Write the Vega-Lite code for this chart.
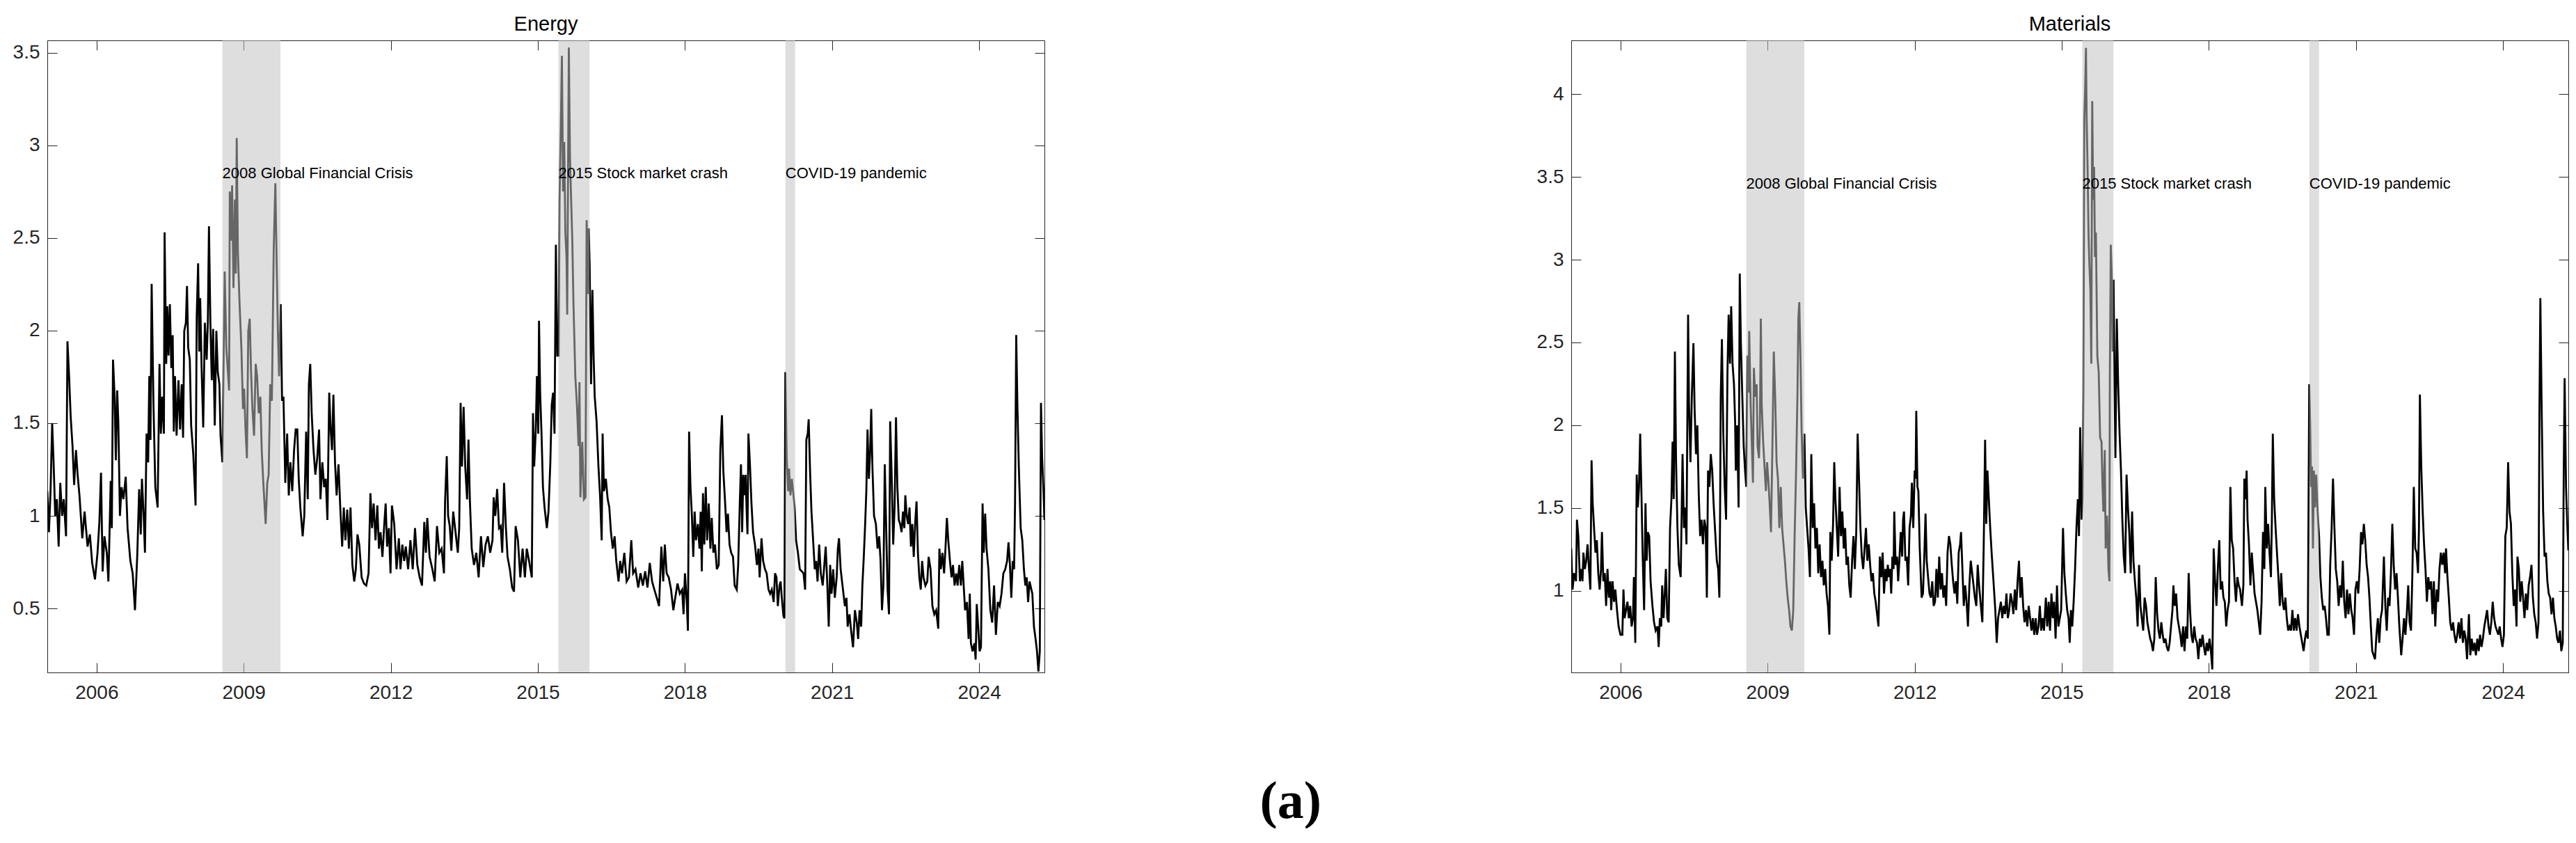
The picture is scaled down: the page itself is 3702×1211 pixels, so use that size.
{
  "$schema": "https://vega.github.io/schema/vega-lite/v6.json",
  "background": "white",
  "padding": {"left": 17, "top": 20, "right": 0, "bottom": 0},
  "config": {
    "view": {"stroke": "#262626", "strokeWidth": 1},
    "font": "Liberation Sans",
    "axis": {"labelFont": "Liberation Sans", "labelFontSize": 28, "labelColor": "#262626", "domainColor": "#262626", "tickColor": "#262626", "grid": false, "title": null, "tickSize": -14, "labelFlush": false, "labelOverlap": false},
    "title": {"font": "Liberation Sans", "fontSize": 29, "fontWeight": "normal", "color": "#000000", "offset": 8},
    "concat": {"spacing": 705}
  },
  "title": {"text": "(a)", "orient": "bottom", "font": "Liberation Serif", "fontSize": 76, "fontWeight": "bold", "offset": 105, "anchor": "middle", "color": "#000000"},
  "datasets": {
    "periods": [
      {"event": "2008 Global Financial Crisis", "start": 2008.566, "end": 2009.75},
      {"event": "2015 Stock market crash", "start": 2015.42, "end": 2016.055},
      {"event": "COVID-19 pandemic", "start": 2020.05, "end": 2020.248}
    ],
    "energy": [
{"t":2004.995,"v":1.133},{"t":2005.028,"v":0.912},{"t":2005.061,"v":1.133},{"t":2005.094,"v":1.5},{"t":2005.123,"v":1.289},{"t":2005.156,"v":1.0},{"t":2005.189,"v":1.09},{"t":2005.226,"v":0.834},{"t":2005.259,"v":1.178},{"t":2005.297,"v":1.0},{"t":2005.33,"v":1.09},{"t":2005.377,"v":0.89},{"t":2005.406,"v":1.942},{"t":2005.439,"v":1.754},{"t":2005.472,"v":1.532},{"t":2005.509,"v":1.377},{"t":2005.542,"v":1.167},{"t":2005.58,"v":1.355},{"t":2005.613,"v":1.222},{"t":2005.651,"v":1.11},{"t":2005.708,"v":0.879},{"t":2005.755,"v":1.023},{"t":2005.816,"v":0.834},{"t":2005.863,"v":0.9},{"t":2005.91,"v":0.746},{"t":2005.967,"v":0.657},
{"t":2006.019,"v":0.801},{"t":2006.057,"v":0.967},{"t":2006.09,"v":1.233},{"t":2006.123,"v":0.7},{"t":2006.16,"v":0.89},{"t":2006.208,"v":0.801},{"t":2006.241,"v":0.646},{"t":2006.288,"v":1.189},{"t":2006.311,"v":0.934},{"t":2006.335,"v":1.843},{"t":2006.368,"v":1.643},{"t":2006.392,"v":1.3},{"t":2006.42,"v":1.677},{"t":2006.443,"v":1.51},{"t":2006.476,"v":1.0},{"t":2006.509,"v":1.155},{"t":2006.547,"v":1.09},{"t":2006.594,"v":1.211},{"t":2006.632,"v":0.934},{"t":2006.689,"v":0.757},{"t":2006.736,"v":0.69},{"t":2006.783,"v":0.491},{"t":2006.83,"v":0.79},{"t":2006.868,"v":1.144},{"t":2006.901,"v":0.9},{"t":2006.925,"v":1.2},{"t":2006.962,"v":0.99},{"t":2006.986,"v":0.801},
{"t":2007.019,"v":1.444},{"t":2007.052,"v":1.289},{"t":2007.075,"v":1.754},{"t":2007.099,"v":1.41},{"t":2007.123,"v":2.252},{"t":2007.16,"v":1.6},{"t":2007.198,"v":1.155},{"t":2007.245,"v":1.045},{"t":2007.283,"v":1.82},{"t":2007.311,"v":1.444},{"t":2007.34,"v":1.643},{"t":2007.373,"v":1.444},{"t":2007.387,"v":2.53},{"t":2007.42,"v":1.82},{"t":2007.443,"v":2.131},{"t":2007.467,"v":1.865},{"t":2007.495,"v":2.142},{"t":2007.524,"v":1.798},{"t":2007.552,"v":1.975},{"t":2007.575,"v":1.455},{"t":2007.599,"v":1.754},{"t":2007.632,"v":1.433},{"t":2007.67,"v":1.732},{"t":2007.703,"v":1.466},{"t":2007.736,"v":1.71},{"t":2007.764,"v":1.422},{"t":2007.788,"v":1.998},{"t":2007.821,"v":2.042},{"t":2007.844,"v":2.241},{"t":2007.868,"v":1.909},{"t":2007.901,"v":1.843},{"t":2007.929,"v":1.488},{"t":2007.972,"v":1.333},
{"t":2008.019,"v":1.056},{"t":2008.042,"v":2.075},{"t":2008.071,"v":2.363},{"t":2008.094,"v":1.887},{"t":2008.113,"v":2.175},{"t":2008.142,"v":1.798},{"t":2008.175,"v":1.477},{"t":2008.208,"v":2.042},{"t":2008.245,"v":1.843},{"t":2008.269,"v":2.042},{"t":2008.292,"v":2.563},{"t":2008.321,"v":2.042},{"t":2008.349,"v":1.732},{"t":2008.377,"v":2.009},{"t":2008.41,"v":1.488},{"t":2008.443,"v":1.998},{"t":2008.472,"v":1.776},{"t":2008.505,"v":1.71},{"t":2008.528,"v":1.433},{"t":2008.566,"v":1.289},{"t":2008.59,"v":1.82},{"t":2008.613,"v":2.319},{"t":2008.646,"v":1.909},{"t":2008.679,"v":1.776},{"t":2008.703,"v":1.677},{"t":2008.717,"v":2.751},{"t":2008.745,"v":2.485},{"t":2008.764,"v":2.784},{"t":2008.792,"v":2.23},{"t":2008.821,"v":2.707},{"t":2008.84,"v":2.308},{"t":2008.858,"v":3.039},{"t":2008.882,"v":2.43},{"t":2008.915,"v":2.153},{"t":2008.953,"v":1.909},{"t":2008.986,"v":1.577},
{"t":2009.009,"v":1.687},{"t":2009.038,"v":1.466},{"t":2009.066,"v":1.311},{"t":2009.094,"v":1.998},{"t":2009.123,"v":2.064},{"t":2009.151,"v":1.776},{"t":2009.179,"v":1.577},{"t":2009.212,"v":1.433},{"t":2009.245,"v":1.82},{"t":2009.274,"v":1.754},{"t":2009.307,"v":1.554},{"t":2009.34,"v":1.643},{"t":2009.368,"v":1.355},{"t":2009.401,"v":1.178},{"t":2009.448,"v":0.956},{"t":2009.481,"v":1.178},{"t":2009.509,"v":1.222},{"t":2009.542,"v":1.71},{"t":2009.575,"v":1.621},{"t":2009.613,"v":2.441},{"t":2009.646,"v":2.795},{"t":2009.675,"v":2.33},{"t":2009.698,"v":1.998},{"t":2009.722,"v":1.754},{"t":2009.755,"v":2.142},{"t":2009.783,"v":1.621},{"t":2009.811,"v":1.643},{"t":2009.849,"v":1.178},{"t":2009.887,"v":1.444},{"t":2009.92,"v":1.11},{"t":2009.953,"v":1.289},{"t":2009.991,"v":1.133},
{"t":2010.028,"v":1.355},{"t":2010.061,"v":1.466},{"t":2010.094,"v":1.466},{"t":2010.123,"v":1.2},{"t":2010.156,"v":1.045},{"t":2010.203,"v":0.89},{"t":2010.236,"v":1.0},{"t":2010.274,"v":1.455},{"t":2010.307,"v":1.09},{"t":2010.33,"v":1.71},{"t":2010.358,"v":1.82},{"t":2010.387,"v":1.554},{"t":2010.425,"v":1.355},{"t":2010.462,"v":1.222},{"t":2010.5,"v":1.311},{"t":2010.538,"v":1.466},{"t":2010.566,"v":1.09},{"t":2010.604,"v":1.289},{"t":2010.642,"v":1.155},{"t":2010.675,"v":1.2},{"t":2010.708,"v":0.978},{"t":2010.745,"v":1.665},{"t":2010.774,"v":1.466},{"t":2010.802,"v":1.355},{"t":2010.83,"v":1.654},{"t":2010.863,"v":1.289},{"t":2010.896,"v":1.11},{"t":2010.934,"v":1.278},{"t":2010.972,"v":1.034},
{"t":2011.009,"v":0.834},{"t":2011.042,"v":1.045},{"t":2011.075,"v":0.868},{"t":2011.113,"v":1.034},{"t":2011.146,"v":0.823},{"t":2011.179,"v":1.045},{"t":2011.217,"v":0.735},{"t":2011.255,"v":0.646},{"t":2011.288,"v":0.712},{"t":2011.321,"v":0.9},{"t":2011.358,"v":0.845},{"t":2011.406,"v":0.668},{"t":2011.453,"v":0.635},{"t":2011.5,"v":0.624},{"t":2011.547,"v":0.69},{"t":2011.585,"v":1.122},{"t":2011.618,"v":0.934},{"t":2011.651,"v":1.067},{"t":2011.689,"v":0.868},{"t":2011.726,"v":1.056},{"t":2011.759,"v":0.823},{"t":2011.792,"v":0.912},{"t":2011.83,"v":0.779},{"t":2011.868,"v":0.956},{"t":2011.896,"v":1.067},{"t":2011.925,"v":0.834},{"t":2011.962,"v":0.934},{"t":2011.995,"v":0.69},
{"t":2012.024,"v":1.056},{"t":2012.071,"v":0.956},{"t":2012.118,"v":0.712},{"t":2012.165,"v":0.879},{"t":2012.198,"v":0.712},{"t":2012.236,"v":0.845},{"t":2012.274,"v":0.757},{"t":2012.307,"v":0.834},{"t":2012.354,"v":0.712},{"t":2012.401,"v":0.868},{"t":2012.448,"v":0.712},{"t":2012.495,"v":0.934},{"t":2012.542,"v":0.735},{"t":2012.59,"v":0.668},{"t":2012.637,"v":0.624},{"t":2012.684,"v":0.967},{"t":2012.717,"v":0.801},{"t":2012.745,"v":0.989},{"t":2012.792,"v":0.779},{"t":2012.849,"v":0.712},{"t":2012.896,"v":0.646},{"t":2012.943,"v":0.945},{"t":2012.991,"v":0.801},
{"t":2013.038,"v":0.823},{"t":2013.085,"v":0.69},{"t":2013.108,"v":1.078},{"t":2013.142,"v":1.322},{"t":2013.17,"v":1.0},{"t":2013.203,"v":0.945},{"t":2013.236,"v":0.812},{"t":2013.274,"v":1.023},{"t":2013.321,"v":0.912},{"t":2013.368,"v":0.801},{"t":2013.396,"v":0.934},{"t":2013.425,"v":1.61},{"t":2013.453,"v":1.266},{"t":2013.486,"v":1.588},{"t":2013.519,"v":1.266},{"t":2013.557,"v":1.089},{"t":2013.585,"v":1.411},{"t":2013.613,"v":1.089},{"t":2013.651,"v":0.823},{"t":2013.698,"v":0.735},{"t":2013.745,"v":0.801},{"t":2013.792,"v":0.668},{"t":2013.84,"v":0.89},{"t":2013.887,"v":0.724},{"t":2013.934,"v":0.845},{"t":2013.981,"v":0.89},
{"t":2014.028,"v":0.801},{"t":2014.075,"v":0.868},{"t":2014.099,"v":1.1},{"t":2014.132,"v":1.0},{"t":2014.17,"v":1.145},{"t":2014.208,"v":0.934},{"t":2014.241,"v":0.945},{"t":2014.274,"v":0.801},{"t":2014.311,"v":1.178},{"t":2014.349,"v":0.934},{"t":2014.382,"v":0.779},{"t":2014.429,"v":0.712},{"t":2014.476,"v":0.613},{"t":2014.514,"v":0.591},{"t":2014.547,"v":0.945},{"t":2014.594,"v":0.868},{"t":2014.642,"v":0.668},{"t":2014.689,"v":0.823},{"t":2014.736,"v":0.668},{"t":2014.774,"v":0.823},{"t":2014.821,"v":0.757},{"t":2014.877,"v":0.668},{"t":2014.901,"v":1.554},{"t":2014.925,"v":1.266},{"t":2014.958,"v":1.466},{"t":2014.981,"v":1.754},
{"t":2015.009,"v":1.444},{"t":2015.024,"v":2.053},{"t":2015.047,"v":1.665},{"t":2015.075,"v":1.444},{"t":2015.104,"v":1.156},{"t":2015.137,"v":1.045},{"t":2015.184,"v":0.934},{"t":2015.217,"v":1.023},{"t":2015.255,"v":1.289},{"t":2015.283,"v":1.599},{"t":2015.311,"v":1.665},{"t":2015.34,"v":1.444},{"t":2015.368,"v":2.463},{"t":2015.396,"v":1.865},{"t":2015.425,"v":1.865},{"t":2015.443,"v":2.707},{"t":2015.467,"v":3.072},{"t":2015.491,"v":3.482},{"t":2015.514,"v":2.751},{"t":2015.538,"v":3.017},{"t":2015.561,"v":2.529},{"t":2015.585,"v":2.396},{"t":2015.599,"v":2.086},{"t":2015.618,"v":2.928},{"t":2015.632,"v":3.527},{"t":2015.656,"v":2.928},{"t":2015.679,"v":2.707},{"t":2015.703,"v":2.485},{"t":2015.726,"v":2.153},{"t":2015.764,"v":1.754},{"t":2015.797,"v":1.599},{"t":2015.83,"v":1.377},{"t":2015.849,"v":1.721},{"t":2015.868,"v":1.1},{"t":2015.906,"v":1.399},{"t":2015.939,"v":1.089},{"t":2015.972,"v":1.1},{"t":2015.995,"v":2.596},
{"t":2016.019,"v":2.197},{"t":2016.038,"v":2.552},{"t":2016.057,"v":2.352},{"t":2016.085,"v":1.71},{"t":2016.113,"v":2.219},{"t":2016.137,"v":1.865},{"t":2016.16,"v":1.643},{"t":2016.198,"v":1.51},{"t":2016.236,"v":1.266},{"t":2016.269,"v":1.111},{"t":2016.302,"v":0.868},{"t":2016.321,"v":1.444},{"t":2016.349,"v":1.133},{"t":2016.387,"v":1.2},{"t":2016.425,"v":1.089},{"t":2016.458,"v":1.045},{"t":2016.491,"v":0.912},{"t":2016.528,"v":0.823},{"t":2016.566,"v":0.89},{"t":2016.599,"v":0.757},{"t":2016.646,"v":0.646},{"t":2016.679,"v":0.757},{"t":2016.717,"v":0.69},{"t":2016.764,"v":0.801},{"t":2016.811,"v":0.646},{"t":2016.858,"v":0.668},{"t":2016.906,"v":0.868},{"t":2016.943,"v":0.69},{"t":2016.991,"v":0.712},
{"t":2017.047,"v":0.613},{"t":2017.094,"v":0.69},{"t":2017.142,"v":0.624},{"t":2017.189,"v":0.701},{"t":2017.236,"v":0.613},{"t":2017.283,"v":0.746},{"t":2017.33,"v":0.646},{"t":2017.377,"v":0.602},{"t":2017.425,"v":0.558},{"t":2017.472,"v":0.513},{"t":2017.519,"v":0.834},{"t":2017.557,"v":0.646},{"t":2017.59,"v":0.845},{"t":2017.627,"v":0.69},{"t":2017.67,"v":0.668},{"t":2017.717,"v":0.602},{"t":2017.764,"v":0.491},{"t":2017.802,"v":0.558},{"t":2017.849,"v":0.635},{"t":2017.896,"v":0.58},{"t":2017.943,"v":0.602},{"t":2017.972,"v":0.469},
{"t":2018.0,"v":0.69},{"t":2018.038,"v":0.535},{"t":2018.061,"v":0.38},{"t":2018.085,"v":1.455},{"t":2018.113,"v":1.156},{"t":2018.142,"v":1.0},{"t":2018.17,"v":0.779},{"t":2018.198,"v":1.023},{"t":2018.226,"v":0.868},{"t":2018.264,"v":0.956},{"t":2018.297,"v":0.823},{"t":2018.321,"v":1.023},{"t":2018.344,"v":0.701},{"t":2018.368,"v":1.122},{"t":2018.396,"v":0.845},{"t":2018.425,"v":1.156},{"t":2018.453,"v":0.868},{"t":2018.486,"v":1.067},{"t":2018.519,"v":0.823},{"t":2018.547,"v":0.989},{"t":2018.58,"v":0.801},{"t":2018.613,"v":0.845},{"t":2018.651,"v":0.712},{"t":2018.689,"v":0.735},{"t":2018.722,"v":1.355},{"t":2018.755,"v":1.543},{"t":2018.783,"v":1.244},{"t":2018.816,"v":1.089},{"t":2018.849,"v":0.912},{"t":2018.877,"v":1.012},{"t":2018.91,"v":0.845},{"t":2018.943,"v":0.801},{"t":2018.981,"v":0.779},
{"t":2019.014,"v":0.624},{"t":2019.057,"v":0.602},{"t":2019.086,"v":0.735},{"t":2019.119,"v":1.067},{"t":2019.143,"v":1.278},{"t":2019.167,"v":0.912},{"t":2019.19,"v":1.222},{"t":2019.214,"v":1.111},{"t":2019.238,"v":1.222},{"t":2019.262,"v":1.0},{"t":2019.276,"v":0.901},{"t":2019.295,"v":1.444},{"t":2019.324,"v":1.289},{"t":2019.357,"v":1.067},{"t":2019.39,"v":0.912},{"t":2019.429,"v":0.845},{"t":2019.467,"v":0.735},{"t":2019.5,"v":0.823},{"t":2019.524,"v":0.668},{"t":2019.562,"v":0.879},{"t":2019.595,"v":0.757},{"t":2019.633,"v":0.712},{"t":2019.667,"v":0.69},{"t":2019.705,"v":0.602},{"t":2019.738,"v":0.58},{"t":2019.771,"v":0.602},{"t":2019.81,"v":0.535},{"t":2019.838,"v":0.69},{"t":2019.867,"v":0.668},{"t":2019.895,"v":0.513},{"t":2019.929,"v":0.624},{"t":2019.952,"v":0.646},{"t":2019.976,"v":0.558},
{"t":2020.01,"v":0.458},{"t":2020.029,"v":0.447},{"t":2020.048,"v":1.776},{"t":2020.076,"v":1.311},{"t":2020.105,"v":1.133},{"t":2020.124,"v":1.255},{"t":2020.152,"v":1.111},{"t":2020.181,"v":1.2},{"t":2020.214,"v":1.111},{"t":2020.238,"v":1.045},{"t":2020.267,"v":0.868},{"t":2020.305,"v":0.801},{"t":2020.343,"v":0.712},{"t":2020.381,"v":0.701},{"t":2020.419,"v":0.69},{"t":2020.452,"v":0.602},{"t":2020.476,"v":1.411},{"t":2020.505,"v":1.444},{"t":2020.524,"v":1.521},{"t":2020.552,"v":1.244},{"t":2020.581,"v":1.023},{"t":2020.61,"v":0.89},{"t":2020.648,"v":0.712},{"t":2020.676,"v":0.757},{"t":2020.705,"v":0.646},{"t":2020.738,"v":0.845},{"t":2020.771,"v":0.69},{"t":2020.81,"v":0.624},{"t":2020.843,"v":0.735},{"t":2020.871,"v":0.834},{"t":2020.905,"v":0.624},{"t":2020.933,"v":0.402},{"t":2020.962,"v":0.735},{"t":2020.99,"v":0.58},
{"t":2021.024,"v":0.712},{"t":2021.057,"v":0.558},{"t":2021.095,"v":0.668},{"t":2021.119,"v":0.823},{"t":2021.143,"v":0.879},{"t":2021.176,"v":0.712},{"t":2021.214,"v":0.624},{"t":2021.262,"v":0.513},{"t":2021.295,"v":0.558},{"t":2021.319,"v":0.402},{"t":2021.357,"v":0.469},{"t":2021.39,"v":0.38},{"t":2021.429,"v":0.291},{"t":2021.467,"v":0.491},{"t":2021.505,"v":0.424},{"t":2021.533,"v":0.336},{"t":2021.562,"v":0.491},{"t":2021.595,"v":0.402},{"t":2021.619,"v":0.624},{"t":2021.648,"v":0.779},{"t":2021.676,"v":0.956},{"t":2021.7,"v":1.133},{"t":2021.724,"v":1.466},{"t":2021.752,"v":1.2},{"t":2021.776,"v":1.333},{"t":2021.8,"v":1.577},{"t":2021.824,"v":1.266},{"t":2021.857,"v":1.0},{"t":2021.895,"v":0.956},{"t":2021.929,"v":0.823},{"t":2021.962,"v":0.89},{"t":2021.99,"v":0.757},
{"t":2022.019,"v":0.491},{"t":2022.048,"v":0.624},{"t":2022.076,"v":1.278},{"t":2022.105,"v":0.934},{"t":2022.133,"v":0.602},{"t":2022.162,"v":0.469},{"t":2022.186,"v":1.51},{"t":2022.214,"v":1.244},{"t":2022.248,"v":0.845},{"t":2022.276,"v":1.045},{"t":2022.305,"v":1.532},{"t":2022.333,"v":1.156},{"t":2022.362,"v":0.978},{"t":2022.39,"v":0.956},{"t":2022.419,"v":0.912},{"t":2022.448,"v":1.023},{"t":2022.476,"v":0.934},{"t":2022.495,"v":1.111},{"t":2022.524,"v":1.0},{"t":2022.552,"v":0.956},{"t":2022.581,"v":1.045},{"t":2022.61,"v":0.834},{"t":2022.638,"v":0.956},{"t":2022.667,"v":0.779},{"t":2022.695,"v":0.956},{"t":2022.724,"v":1.078},{"t":2022.752,"v":0.801},{"t":2022.781,"v":0.668},{"t":2022.81,"v":0.602},{"t":2022.838,"v":0.757},{"t":2022.867,"v":0.668},{"t":2022.905,"v":0.624},{"t":2022.943,"v":0.646},{"t":2022.971,"v":0.779},
{"t":2023.01,"v":0.712},{"t":2023.048,"v":0.513},{"t":2023.086,"v":0.469},{"t":2023.124,"v":0.491},{"t":2023.167,"v":0.391},{"t":2023.19,"v":0.823},{"t":2023.219,"v":0.712},{"t":2023.252,"v":0.801},{"t":2023.286,"v":0.69},{"t":2023.314,"v":0.823},{"t":2023.343,"v":0.989},{"t":2023.371,"v":0.868},{"t":2023.405,"v":0.757},{"t":2023.438,"v":0.668},{"t":2023.467,"v":0.735},{"t":2023.5,"v":0.624},{"t":2023.533,"v":0.69},{"t":2023.562,"v":0.624},{"t":2023.595,"v":0.735},{"t":2023.629,"v":0.624},{"t":2023.657,"v":0.757},{"t":2023.681,"v":0.646},{"t":2023.714,"v":0.491},{"t":2023.752,"v":0.535},{"t":2023.786,"v":0.336},{"t":2023.81,"v":0.58},{"t":2023.833,"v":0.313},{"t":2023.867,"v":0.269},{"t":2023.905,"v":0.313},{"t":2023.929,"v":0.225},{"t":2023.952,"v":0.524},{"t":2023.981,"v":0.402},
{"t":2024.01,"v":0.269},{"t":2024.038,"v":0.291},{"t":2024.071,"v":1.067},{"t":2024.095,"v":0.801},{"t":2024.124,"v":1.012},{"t":2024.152,"v":0.823},{"t":2024.19,"v":0.712},{"t":2024.229,"v":0.491},{"t":2024.267,"v":0.424},{"t":2024.305,"v":0.624},{"t":2024.343,"v":0.358},{"t":2024.381,"v":0.535},{"t":2024.419,"v":0.513},{"t":2024.457,"v":0.58},{"t":2024.495,"v":0.69},{"t":2024.533,"v":0.712},{"t":2024.571,"v":0.757},{"t":2024.6,"v":0.857},{"t":2024.629,"v":0.735},{"t":2024.657,"v":0.558},{"t":2024.686,"v":0.757},{"t":2024.714,"v":0.712},{"t":2024.733,"v":1.067},{"t":2024.757,"v":1.976},{"t":2024.781,"v":1.599},{"t":2024.81,"v":1.266},{"t":2024.848,"v":0.934},{"t":2024.881,"v":0.868},{"t":2024.914,"v":0.712},{"t":2024.943,"v":0.624},{"t":2024.971,"v":0.668},
{"t":2025.0,"v":0.535},{"t":2025.029,"v":0.646},{"t":2025.057,"v":0.613},{"t":2025.086,"v":0.58},{"t":2025.119,"v":0.402},{"t":2025.152,"v":0.336},{"t":2025.181,"v":0.269},{"t":2025.21,"v":0.16},{"t":2025.238,"v":0.269},{"t":2025.262,"v":1.61},{"t":2025.286,"v":1.311},{"t":2025.314,"v":1.133},{"t":2025.333,"v":0.978}
    ],
    "materials": [
{"t":2004.995,"v":1.255},{"t":2005.022,"v":1.007},{"t":2005.055,"v":1.106},{"t":2005.093,"v":1.057},{"t":2005.112,"v":1.429},{"t":2005.14,"v":1.33},{"t":2005.173,"v":1.057},{"t":2005.197,"v":1.131},{"t":2005.225,"v":1.057},{"t":2005.244,"v":1.23},{"t":2005.273,"v":1.131},{"t":2005.301,"v":1.181},{"t":2005.329,"v":1.28},{"t":2005.353,"v":1.156},{"t":2005.386,"v":1.007},{"t":2005.41,"v":1.788},{"t":2005.433,"v":1.528},{"t":2005.461,"v":1.379},{"t":2005.49,"v":1.23},{"t":2005.518,"v":1.305},{"t":2005.547,"v":1.106},{"t":2005.575,"v":1.007},{"t":2005.603,"v":1.131},{"t":2005.622,"v":1.354},{"t":2005.65,"v":1.057},{"t":2005.679,"v":1.106},{"t":2005.707,"v":0.908},{"t":2005.735,"v":1.131},{"t":2005.764,"v":0.958},{"t":2005.792,"v":1.057},{"t":2005.811,"v":0.883},{"t":2005.839,"v":1.057},{"t":2005.868,"v":0.933},{"t":2005.896,"v":1.007},{"t":2005.929,"v":0.883},{"t":2005.962,"v":0.784},
{"t":2006.0,"v":0.734},{"t":2006.038,"v":0.734},{"t":2006.061,"v":1.007},{"t":2006.085,"v":0.834},{"t":2006.113,"v":0.883},{"t":2006.142,"v":0.933},{"t":2006.17,"v":0.834},{"t":2006.198,"v":0.908},{"t":2006.227,"v":0.784},{"t":2006.255,"v":0.834},{"t":2006.274,"v":1.082},{"t":2006.302,"v":0.685},{"t":2006.331,"v":1.701},{"t":2006.354,"v":1.503},{"t":2006.378,"v":1.627},{"t":2006.402,"v":1.949},{"t":2006.425,"v":1.627},{"t":2006.453,"v":1.206},{"t":2006.482,"v":0.883},{"t":2006.51,"v":1.528},{"t":2006.534,"v":1.181},{"t":2006.557,"v":1.354},{"t":2006.586,"v":1.33},{"t":2006.614,"v":1.057},{"t":2006.652,"v":0.908},{"t":2006.685,"v":0.809},{"t":2006.718,"v":0.759},{"t":2006.756,"v":0.784},{"t":2006.779,"v":0.66},{"t":2006.803,"v":0.834},{"t":2006.831,"v":0.784},{"t":2006.85,"v":1.032},{"t":2006.879,"v":0.834},{"t":2006.907,"v":1.007},{"t":2006.926,"v":1.131},{"t":2006.954,"v":0.834},{"t":2006.983,"v":0.809},
{"t":2007.011,"v":1.379},{"t":2007.039,"v":1.553},{"t":2007.063,"v":1.9},{"t":2007.086,"v":1.553},{"t":2007.11,"v":2.445},{"t":2007.134,"v":1.776},{"t":2007.162,"v":1.379},{"t":2007.19,"v":1.156},{"t":2007.228,"v":1.082},{"t":2007.266,"v":1.825},{"t":2007.294,"v":1.379},{"t":2007.323,"v":1.503},{"t":2007.346,"v":1.28},{"t":2007.379,"v":2.668},{"t":2007.398,"v":2.123},{"t":2007.427,"v":1.776},{"t":2007.455,"v":2.172},{"t":2007.488,"v":2.495},{"t":2007.512,"v":2.098},{"t":2007.54,"v":1.825},{"t":2007.568,"v":1.999},{"t":2007.597,"v":1.577},{"t":2007.625,"v":1.33},{"t":2007.653,"v":1.429},{"t":2007.682,"v":1.28},{"t":2007.71,"v":1.429},{"t":2007.738,"v":1.379},{"t":2007.762,"v":0.958},{"t":2007.786,"v":1.726},{"t":2007.814,"v":1.627},{"t":2007.842,"v":1.825},{"t":2007.871,"v":1.726},{"t":2007.899,"v":1.528},{"t":2007.927,"v":1.379},{"t":2007.965,"v":1.181},{"t":2007.993,"v":1.131},
{"t":2008.017,"v":0.958},{"t":2008.031,"v":1.429},{"t":2008.045,"v":2.172},{"t":2008.069,"v":2.52},{"t":2008.097,"v":1.949},{"t":2008.126,"v":1.627},{"t":2008.154,"v":1.429},{"t":2008.182,"v":2.321},{"t":2008.206,"v":2.668},{"t":2008.234,"v":2.371},{"t":2008.258,"v":2.718},{"t":2008.286,"v":2.371},{"t":2008.315,"v":2.247},{"t":2008.338,"v":2.024},{"t":2008.352,"v":1.726},{"t":2008.381,"v":1.999},{"t":2008.409,"v":1.503},{"t":2008.433,"v":2.916},{"t":2008.456,"v":2.495},{"t":2008.485,"v":2.172},{"t":2008.513,"v":1.875},{"t":2008.541,"v":1.726},{"t":2008.565,"v":1.627},{"t":2008.589,"v":2.421},{"t":2008.612,"v":2.197},{"t":2008.626,"v":2.569},{"t":2008.655,"v":2.123},{"t":2008.678,"v":1.9},{"t":2008.702,"v":1.652},{"t":2008.721,"v":2.346},{"t":2008.749,"v":2.172},{"t":2008.778,"v":2.247},{"t":2008.796,"v":1.875},{"t":2008.825,"v":1.801},{"t":2008.844,"v":1.999},{"t":2008.863,"v":2.644},{"t":2008.881,"v":2.123},{"t":2008.91,"v":1.9},{"t":2008.938,"v":1.751},{"t":2008.966,"v":1.602},{"t":2008.99,"v":1.776},
{"t":2009.014,"v":1.677},{"t":2009.042,"v":1.528},{"t":2009.07,"v":1.354},{"t":2009.099,"v":1.875},{"t":2009.127,"v":2.445},{"t":2009.155,"v":2.172},{"t":2009.184,"v":1.776},{"t":2009.212,"v":1.677},{"t":2009.24,"v":1.379},{"t":2009.269,"v":1.627},{"t":2009.297,"v":1.379},{"t":2009.325,"v":1.28},{"t":2009.354,"v":1.181},{"t":2009.382,"v":1.057},{"t":2009.41,"v":0.958},{"t":2009.439,"v":0.883},{"t":2009.467,"v":0.784},{"t":2009.496,"v":0.759},{"t":2009.524,"v":0.883},{"t":2009.552,"v":1.33},{"t":2009.58,"v":1.701},{"t":2009.609,"v":2.172},{"t":2009.628,"v":2.644},{"t":2009.647,"v":2.743},{"t":2009.67,"v":2.421},{"t":2009.694,"v":1.974},{"t":2009.722,"v":1.677},{"t":2009.751,"v":1.949},{"t":2009.779,"v":1.503},{"t":2009.807,"v":1.379},{"t":2009.836,"v":1.255},{"t":2009.864,"v":1.082},{"t":2009.892,"v":1.825},{"t":2009.921,"v":1.379},{"t":2009.949,"v":1.528},{"t":2009.977,"v":1.255},
{"t":2010.006,"v":1.379},{"t":2010.034,"v":1.106},{"t":2010.062,"v":1.28},{"t":2010.091,"v":1.082},{"t":2010.119,"v":1.181},{"t":2010.147,"v":1.032},{"t":2010.176,"v":1.131},{"t":2010.204,"v":0.983},{"t":2010.232,"v":0.908},{"t":2010.261,"v":0.734},{"t":2010.28,"v":1.354},{"t":2010.308,"v":1.181},{"t":2010.336,"v":1.404},{"t":2010.36,"v":1.776},{"t":2010.384,"v":1.553},{"t":2010.412,"v":1.379},{"t":2010.44,"v":1.206},{"t":2010.469,"v":1.627},{"t":2010.497,"v":1.33},{"t":2010.525,"v":1.478},{"t":2010.554,"v":1.255},{"t":2010.582,"v":1.379},{"t":2010.61,"v":1.156},{"t":2010.639,"v":1.206},{"t":2010.667,"v":1.032},{"t":2010.695,"v":0.958},{"t":2010.724,"v":1.181},{"t":2010.752,"v":1.33},{"t":2010.78,"v":1.131},{"t":2010.809,"v":1.354},{"t":2010.837,"v":1.949},{"t":2010.865,"v":1.677},{"t":2010.894,"v":1.379},{"t":2010.922,"v":1.206},{"t":2010.95,"v":1.131},{"t":2010.979,"v":1.255},
{"t":2011.007,"v":1.379},{"t":2011.035,"v":1.181},{"t":2011.064,"v":1.28},{"t":2011.092,"v":1.156},{"t":2011.12,"v":1.057},{"t":2011.149,"v":1.106},{"t":2011.177,"v":0.983},{"t":2011.205,"v":0.933},{"t":2011.234,"v":0.858},{"t":2011.262,"v":0.784},{"t":2011.29,"v":1.206},{"t":2011.319,"v":1.082},{"t":2011.347,"v":1.23},{"t":2011.375,"v":0.983},{"t":2011.404,"v":1.131},{"t":2011.428,"v":1.057},{"t":2011.452,"v":1.156},{"t":2011.475,"v":1.082},{"t":2011.499,"v":1.131},{"t":2011.522,"v":0.983},{"t":2011.546,"v":1.206},{"t":2011.57,"v":1.131},{"t":2011.584,"v":1.478},{"t":2011.612,"v":1.156},{"t":2011.641,"v":1.206},{"t":2011.664,"v":1.057},{"t":2011.688,"v":1.181},{"t":2011.716,"v":1.354},{"t":2011.745,"v":1.206},{"t":2011.764,"v":1.429},{"t":2011.783,"v":1.478},{"t":2011.811,"v":1.181},{"t":2011.839,"v":1.206},{"t":2011.868,"v":1.032},{"t":2011.896,"v":1.379},{"t":2011.924,"v":1.453},{"t":2011.943,"v":1.652},{"t":2011.972,"v":1.379},
{"t":2012.0,"v":1.726},{"t":2012.019,"v":1.677},{"t":2012.033,"v":2.086},{"t":2012.057,"v":1.627},{"t":2012.076,"v":1.602},{"t":2012.104,"v":1.255},{"t":2012.142,"v":0.958},{"t":2012.17,"v":0.983},{"t":2012.199,"v":1.23},{"t":2012.222,"v":1.466},{"t":2012.246,"v":1.181},{"t":2012.274,"v":1.082},{"t":2012.303,"v":0.983},{"t":2012.331,"v":0.958},{"t":2012.359,"v":1.057},{"t":2012.388,"v":0.908},{"t":2012.416,"v":0.933},{"t":2012.444,"v":1.131},{"t":2012.473,"v":0.958},{"t":2012.501,"v":1.206},{"t":2012.53,"v":1.007},{"t":2012.558,"v":1.106},{"t":2012.586,"v":0.958},{"t":2012.615,"v":1.032},{"t":2012.643,"v":0.908},{"t":2012.671,"v":1.23},{"t":2012.7,"v":1.33},{"t":2012.728,"v":1.28},{"t":2012.757,"v":1.156},{"t":2012.785,"v":1.057},{"t":2012.813,"v":0.983},{"t":2012.842,"v":1.057},{"t":2012.87,"v":0.921},{"t":2012.898,"v":1.23},{"t":2012.927,"v":1.28},{"t":2012.946,"v":1.354},{"t":2012.974,"v":1.131},
{"t":2013.002,"v":0.908},{"t":2013.031,"v":1.032},{"t":2013.059,"v":0.933},{"t":2013.087,"v":0.784},{"t":2013.116,"v":1.032},{"t":2013.144,"v":1.181},{"t":2013.173,"v":1.106},{"t":2013.201,"v":1.032},{"t":2013.229,"v":0.958},{"t":2013.258,"v":0.908},{"t":2013.286,"v":1.156},{"t":2013.314,"v":1.032},{"t":2013.343,"v":0.933},{"t":2013.381,"v":0.809},{"t":2013.409,"v":1.28},{"t":2013.437,"v":1.912},{"t":2013.461,"v":1.404},{"t":2013.485,"v":1.726},{"t":2013.513,"v":1.553},{"t":2013.541,"v":1.379},{"t":2013.57,"v":1.23},{"t":2013.608,"v":1.057},{"t":2013.645,"v":0.883},{"t":2013.674,"v":0.685},{"t":2013.702,"v":0.834},{"t":2013.73,"v":0.883},{"t":2013.759,"v":0.933},{"t":2013.787,"v":0.834},{"t":2013.816,"v":0.908},{"t":2013.844,"v":0.859},{"t":2013.872,"v":0.983},{"t":2013.901,"v":0.834},{"t":2013.929,"v":0.883},{"t":2013.957,"v":0.983},{"t":2013.986,"v":0.933},
{"t":2014.014,"v":0.859},{"t":2014.043,"v":1.007},{"t":2014.071,"v":0.883},{"t":2014.099,"v":1.057},{"t":2014.128,"v":1.181},{"t":2014.156,"v":0.958},{"t":2014.184,"v":1.082},{"t":2014.213,"v":0.908},{"t":2014.241,"v":0.809},{"t":2014.27,"v":0.883},{"t":2014.298,"v":0.784},{"t":2014.326,"v":0.908},{"t":2014.355,"v":0.834},{"t":2014.383,"v":0.759},{"t":2014.411,"v":0.834},{"t":2014.44,"v":0.734},{"t":2014.468,"v":0.834},{"t":2014.496,"v":0.734},{"t":2014.525,"v":0.784},{"t":2014.553,"v":0.908},{"t":2014.582,"v":0.759},{"t":2014.61,"v":0.834},{"t":2014.638,"v":0.759},{"t":2014.676,"v":0.958},{"t":2014.704,"v":0.784},{"t":2014.733,"v":0.933},{"t":2014.761,"v":0.759},{"t":2014.79,"v":0.983},{"t":2014.818,"v":0.834},{"t":2014.846,"v":0.933},{"t":2014.875,"v":0.71},{"t":2014.903,"v":1.032},{"t":2014.931,"v":0.784},{"t":2014.96,"v":0.834},{"t":2014.988,"v":0.883},
{"t":2015.026,"v":1.379},{"t":2015.054,"v":1.106},{"t":2015.083,"v":0.983},{"t":2015.111,"v":0.883},{"t":2015.139,"v":0.834},{"t":2015.163,"v":0.685},{"t":2015.187,"v":0.883},{"t":2015.215,"v":0.784},{"t":2015.243,"v":0.933},{"t":2015.272,"v":1.131},{"t":2015.3,"v":1.379},{"t":2015.329,"v":1.553},{"t":2015.352,"v":1.33},{"t":2015.376,"v":1.987},{"t":2015.404,"v":1.429},{"t":2015.423,"v":1.553},{"t":2015.442,"v":2.197},{"t":2015.461,"v":3.859},{"t":2015.48,"v":4.057},{"t":2015.494,"v":4.28},{"t":2015.508,"v":3.859},{"t":2015.527,"v":3.561},{"t":2015.546,"v":3.164},{"t":2015.565,"v":2.966},{"t":2015.584,"v":2.817},{"t":2015.603,"v":2.371},{"t":2015.622,"v":3.958},{"t":2015.641,"v":3.363},{"t":2015.66,"v":3.561},{"t":2015.678,"v":3.016},{"t":2015.697,"v":3.164},{"t":2015.726,"v":2.421},{"t":2015.754,"v":2.321},{"t":2015.783,"v":1.925},{"t":2015.811,"v":1.9},{"t":2015.83,"v":1.652},{"t":2015.849,"v":1.478},{"t":2015.877,"v":1.85},{"t":2015.896,"v":1.255},{"t":2015.924,"v":1.453},{"t":2015.953,"v":1.131},{"t":2015.972,"v":1.057},{"t":2015.981,"v":2.272},
{"t":2016.0,"v":3.09},{"t":2016.019,"v":2.916},{"t":2016.038,"v":2.445},{"t":2016.057,"v":2.879},{"t":2016.076,"v":2.297},{"t":2016.095,"v":1.801},{"t":2016.123,"v":2.644},{"t":2016.151,"v":2.247},{"t":2016.18,"v":1.949},{"t":2016.208,"v":1.726},{"t":2016.236,"v":1.429},{"t":2016.265,"v":1.206},{"t":2016.293,"v":1.106},{"t":2016.322,"v":1.701},{"t":2016.35,"v":1.503},{"t":2016.378,"v":1.354},{"t":2016.407,"v":1.106},{"t":2016.435,"v":1.478},{"t":2016.463,"v":1.181},{"t":2016.492,"v":1.057},{"t":2016.52,"v":0.958},{"t":2016.548,"v":0.784},{"t":2016.577,"v":1.156},{"t":2016.605,"v":0.908},{"t":2016.633,"v":0.834},{"t":2016.662,"v":0.759},{"t":2016.69,"v":0.958},{"t":2016.719,"v":0.908},{"t":2016.747,"v":0.809},{"t":2016.775,"v":0.759},{"t":2016.804,"v":0.71},{"t":2016.832,"v":0.685},{"t":2016.861,"v":0.635},{"t":2016.889,"v":0.71},{"t":2016.917,"v":1.082},{"t":2016.946,"v":0.859},{"t":2016.974,"v":0.759},
{"t":2017.002,"v":0.71},{"t":2017.031,"v":0.809},{"t":2017.059,"v":0.734},{"t":2017.087,"v":0.685},{"t":2017.116,"v":0.71},{"t":2017.144,"v":0.66},{"t":2017.173,"v":0.635},{"t":2017.201,"v":0.685},{"t":2017.229,"v":0.784},{"t":2017.258,"v":0.883},{"t":2017.277,"v":1.032},{"t":2017.305,"v":0.908},{"t":2017.333,"v":0.983},{"t":2017.362,"v":0.834},{"t":2017.39,"v":0.784},{"t":2017.418,"v":0.734},{"t":2017.447,"v":0.66},{"t":2017.475,"v":0.784},{"t":2017.504,"v":0.635},{"t":2017.532,"v":0.784},{"t":2017.56,"v":0.71},{"t":2017.589,"v":1.106},{"t":2017.617,"v":0.883},{"t":2017.645,"v":0.734},{"t":2017.674,"v":0.685},{"t":2017.702,"v":0.784},{"t":2017.73,"v":0.71},{"t":2017.759,"v":0.685},{"t":2017.787,"v":0.586},{"t":2017.816,"v":0.71},{"t":2017.844,"v":0.66},{"t":2017.872,"v":0.734},{"t":2017.901,"v":0.66},{"t":2017.929,"v":0.61},{"t":2017.957,"v":0.685},{"t":2017.986,"v":0.635},
{"t":2018.014,"v":0.71},{"t":2018.043,"v":0.635},{"t":2018.071,"v":0.524},{"t":2018.099,"v":1.255},{"t":2018.128,"v":1.057},{"t":2018.156,"v":0.908},{"t":2018.184,"v":1.131},{"t":2018.213,"v":1.305},{"t":2018.241,"v":1.007},{"t":2018.27,"v":1.057},{"t":2018.298,"v":0.958},{"t":2018.326,"v":0.933},{"t":2018.355,"v":0.784},{"t":2018.383,"v":0.883},{"t":2018.411,"v":0.933},{"t":2018.44,"v":1.627},{"t":2018.468,"v":1.305},{"t":2018.496,"v":1.255},{"t":2018.525,"v":1.057},{"t":2018.553,"v":0.933},{"t":2018.582,"v":1.082},{"t":2018.61,"v":1.032},{"t":2018.638,"v":1.007},{"t":2018.676,"v":0.908},{"t":2018.705,"v":1.032},{"t":2018.724,"v":1.677},{"t":2018.752,"v":1.553},{"t":2018.771,"v":1.726},{"t":2018.79,"v":1.429},{"t":2018.819,"v":1.28},{"t":2018.848,"v":1.032},{"t":2018.876,"v":1.23},{"t":2018.905,"v":1.106},{"t":2018.933,"v":0.983},{"t":2018.962,"v":0.933},{"t":2018.99,"v":0.883},
{"t":2019.019,"v":0.809},{"t":2019.048,"v":0.734},{"t":2019.076,"v":0.933},{"t":2019.105,"v":1.354},{"t":2019.133,"v":1.131},{"t":2019.152,"v":1.627},{"t":2019.181,"v":1.255},{"t":2019.21,"v":1.404},{"t":2019.238,"v":1.23},{"t":2019.267,"v":1.082},{"t":2019.286,"v":1.429},{"t":2019.305,"v":1.949},{"t":2019.333,"v":1.553},{"t":2019.362,"v":1.379},{"t":2019.39,"v":1.23},{"t":2019.419,"v":1.082},{"t":2019.448,"v":0.908},{"t":2019.476,"v":1.106},{"t":2019.505,"v":0.933},{"t":2019.533,"v":0.883},{"t":2019.562,"v":0.958},{"t":2019.59,"v":0.834},{"t":2019.619,"v":0.759},{"t":2019.648,"v":0.784},{"t":2019.676,"v":0.759},{"t":2019.705,"v":0.883},{"t":2019.733,"v":0.759},{"t":2019.762,"v":0.834},{"t":2019.79,"v":0.759},{"t":2019.819,"v":0.858},{"t":2019.848,"v":0.784},{"t":2019.876,"v":0.734},{"t":2019.905,"v":0.685},{"t":2019.933,"v":0.635},{"t":2019.962,"v":0.71},{"t":2019.99,"v":0.759},
{"t":2020.019,"v":0.71},{"t":2020.048,"v":2.247},{"t":2020.067,"v":1.999},{"t":2020.086,"v":1.627},{"t":2020.105,"v":1.751},{"t":2020.124,"v":1.255},{"t":2020.143,"v":1.726},{"t":2020.167,"v":1.503},{"t":2020.19,"v":1.701},{"t":2020.219,"v":1.478},{"t":2020.248,"v":1.33},{"t":2020.276,"v":1.082},{"t":2020.305,"v":0.958},{"t":2020.333,"v":0.883},{"t":2020.362,"v":0.908},{"t":2020.39,"v":0.834},{"t":2020.419,"v":0.734},{"t":2020.448,"v":0.734},{"t":2020.476,"v":1.156},{"t":2020.505,"v":1.379},{"t":2020.533,"v":1.677},{"t":2020.562,"v":1.379},{"t":2020.59,"v":1.131},{"t":2020.619,"v":1.057},{"t":2020.648,"v":0.908},{"t":2020.676,"v":1.032},{"t":2020.705,"v":0.958},{"t":2020.733,"v":1.181},{"t":2020.762,"v":0.933},{"t":2020.79,"v":0.834},{"t":2020.819,"v":1.007},{"t":2020.848,"v":0.858},{"t":2020.876,"v":0.983},{"t":2020.905,"v":0.883},{"t":2020.933,"v":0.834},{"t":2020.962,"v":0.734},{"t":2020.99,"v":1.007},
{"t":2021.019,"v":1.057},{"t":2021.048,"v":0.983},{"t":2021.076,"v":1.131},{"t":2021.105,"v":1.354},{"t":2021.133,"v":1.28},{"t":2021.162,"v":1.404},{"t":2021.19,"v":1.305},{"t":2021.219,"v":1.156},{"t":2021.248,"v":1.082},{"t":2021.276,"v":0.958},{"t":2021.305,"v":0.784},{"t":2021.333,"v":0.635},{"t":2021.362,"v":0.61},{"t":2021.39,"v":0.586},{"t":2021.419,"v":0.734},{"t":2021.448,"v":0.834},{"t":2021.476,"v":0.685},{"t":2021.505,"v":0.834},{"t":2021.533,"v":0.883},{"t":2021.571,"v":1.206},{"t":2021.6,"v":0.908},{"t":2021.629,"v":0.759},{"t":2021.657,"v":0.958},{"t":2021.686,"v":0.908},{"t":2021.714,"v":1.106},{"t":2021.743,"v":1.404},{"t":2021.771,"v":1.156},{"t":2021.8,"v":1.007},{"t":2021.829,"v":1.106},{"t":2021.857,"v":0.958},{"t":2021.886,"v":0.784},{"t":2021.924,"v":0.61},{"t":2021.952,"v":0.71},{"t":2021.981,"v":0.834},
{"t":2022.01,"v":0.734},{"t":2022.038,"v":0.858},{"t":2022.067,"v":1.032},{"t":2022.095,"v":0.809},{"t":2022.124,"v":0.759},{"t":2022.152,"v":1.106},{"t":2022.181,"v":1.627},{"t":2022.21,"v":1.255},{"t":2022.238,"v":1.23},{"t":2022.267,"v":1.106},{"t":2022.286,"v":1.379},{"t":2022.305,"v":2.185},{"t":2022.333,"v":1.751},{"t":2022.362,"v":1.478},{"t":2022.39,"v":1.28},{"t":2022.419,"v":1.131},{"t":2022.448,"v":0.933},{"t":2022.476,"v":1.082},{"t":2022.505,"v":1.007},{"t":2022.533,"v":1.057},{"t":2022.562,"v":0.858},{"t":2022.59,"v":1.057},{"t":2022.619,"v":0.784},{"t":2022.648,"v":1.007},{"t":2022.676,"v":0.933},{"t":2022.705,"v":1.131},{"t":2022.733,"v":1.23},{"t":2022.762,"v":1.156},{"t":2022.79,"v":1.23},{"t":2022.819,"v":1.106},{"t":2022.838,"v":1.255},{"t":2022.867,"v":1.082},{"t":2022.895,"v":0.958},{"t":2022.924,"v":0.809},{"t":2022.952,"v":0.759},{"t":2022.981,"v":0.809},
{"t":2023.01,"v":0.734},{"t":2023.038,"v":0.685},{"t":2023.067,"v":0.734},{"t":2023.095,"v":0.809},{"t":2023.124,"v":0.71},{"t":2023.152,"v":0.834},{"t":2023.181,"v":0.685},{"t":2023.21,"v":0.759},{"t":2023.238,"v":0.71},{"t":2023.267,"v":0.586},{"t":2023.305,"v":0.858},{"t":2023.333,"v":0.61},{"t":2023.362,"v":0.71},{"t":2023.39,"v":0.635},{"t":2023.419,"v":0.685},{"t":2023.448,"v":0.61},{"t":2023.476,"v":0.71},{"t":2023.505,"v":0.635},{"t":2023.533,"v":0.734},{"t":2023.562,"v":0.66},{"t":2023.59,"v":0.71},{"t":2023.619,"v":0.784},{"t":2023.648,"v":0.834},{"t":2023.676,"v":0.883},{"t":2023.705,"v":0.784},{"t":2023.733,"v":0.734},{"t":2023.762,"v":0.809},{"t":2023.79,"v":0.933},{"t":2023.819,"v":0.834},{"t":2023.848,"v":0.784},{"t":2023.876,"v":0.759},{"t":2023.905,"v":0.734},{"t":2023.933,"v":0.784},{"t":2023.962,"v":0.71},{"t":2023.99,"v":0.66},
{"t":2024.019,"v":0.734},{"t":2024.048,"v":1.33},{"t":2024.076,"v":1.379},{"t":2024.105,"v":1.776},{"t":2024.133,"v":1.478},{"t":2024.162,"v":1.404},{"t":2024.19,"v":1.106},{"t":2024.219,"v":0.908},{"t":2024.248,"v":1.007},{"t":2024.276,"v":0.784},{"t":2024.295,"v":1.206},{"t":2024.324,"v":1.131},{"t":2024.352,"v":0.933},{"t":2024.381,"v":1.057},{"t":2024.41,"v":0.958},{"t":2024.438,"v":0.834},{"t":2024.467,"v":0.983},{"t":2024.495,"v":0.883},{"t":2024.524,"v":1.032},{"t":2024.552,"v":1.082},{"t":2024.581,"v":1.156},{"t":2024.61,"v":0.958},{"t":2024.638,"v":0.858},{"t":2024.667,"v":0.809},{"t":2024.695,"v":0.71},{"t":2024.724,"v":0.809},{"t":2024.743,"v":2.073},{"t":2024.762,"v":2.768},{"t":2024.79,"v":2.073},{"t":2024.819,"v":1.478},{"t":2024.848,"v":1.206},{"t":2024.876,"v":1.23},{"t":2024.905,"v":1.057},{"t":2024.933,"v":0.983},{"t":2024.962,"v":0.958},{"t":2024.99,"v":0.858},
{"t":2025.019,"v":0.958},{"t":2025.048,"v":0.834},{"t":2025.076,"v":0.784},{"t":2025.105,"v":0.71},{"t":2025.133,"v":0.685},{"t":2025.162,"v":0.759},{"t":2025.19,"v":0.635},{"t":2025.219,"v":0.685},{"t":2025.238,"v":1.677},{"t":2025.257,"v":2.284},{"t":2025.286,"v":1.627},{"t":2025.314,"v":1.379},{"t":2025.333,"v":1.243}
    ]
  },
  "hconcat": [
    {
      "title": "Energy",
      "width": 1433,
      "height": 908,
      "layer": [
        {
          "data": {"name": "energy"},
          "mark": {"type": "line", "color": "#000000", "strokeWidth": 2.8, "clip": true},
          "encoding": {
            "x": {"field": "t", "type": "quantitative", "scale": {"domain": [2004.995, 2025.333], "nice": false, "zero": false},
                  "axis": {"orient": "bottom", "values": [2006, 2009, 2012, 2015, 2018, 2021, 2024], "format": "d", "labelPadding": 29}},
            "y": {"field": "v", "type": "quantitative", "scale": {"domain": [0.155, 3.566], "nice": false, "zero": false},
                  "axis": {"orient": "left", "values": [0.5, 1, 1.5, 2, 2.5, 3, 3.5], "format": "~g", "labelPadding": 25}}
          }
        },
        {
          "data": {"name": "periods"},
          "mark": {"type": "rect", "color": "#c0c0c0", "opacity": 0.53},
          "encoding": {
            "x": {"field": "start", "type": "quantitative", "scale": {"domain": [2004.995, 2025.333], "nice": false, "zero": false}, "axis": null},
            "x2": {"field": "end"}
          }
        },
        {
          "data": {"name": "periods"},
          "mark": {"type": "text", "align": "left", "baseline": "middle", "font": "Liberation Sans", "fontSize": 22, "color": "#000000"},
          "encoding": {
            "x": {"field": "start", "type": "quantitative", "scale": {"domain": [2004.995, 2025.333], "nice": false, "zero": false},
                  "axis": {"orient": "top", "values": [2006, 2009, 2012, 2015, 2018, 2021, 2024], "labels": false}},
            "y": {"datum": 2.85, "type": "quantitative", "scale": {"domain": [0.155, 3.566], "nice": false, "zero": false},
                  "axis": {"orient": "right", "values": [0.5, 1, 1.5, 2, 2.5, 3, 3.5], "labels": false}},
            "text": {"field": "event"}
          }
        }
      ],
      "resolve": {"axis": {"x": "independent", "y": "independent"}}
    },
    {
      "title": "Materials",
      "width": 1433,
      "height": 908,
      "layer": [
        {
          "data": {"name": "materials"},
          "mark": {"type": "line", "color": "#000000", "strokeWidth": 2.8, "clip": true},
          "encoding": {
            "x": {"field": "t", "type": "quantitative", "scale": {"domain": [2004.995, 2025.333], "nice": false, "zero": false},
                  "axis": {"orient": "bottom", "values": [2006, 2009, 2012, 2015, 2018, 2021, 2024], "format": "d", "labelPadding": 29}},
            "y": {"field": "v", "type": "quantitative", "scale": {"domain": [0.506, 4.325], "nice": false, "zero": false},
                  "axis": {"orient": "left", "values": [1, 1.5, 2, 2.5, 3, 3.5, 4], "format": "~g", "labelPadding": 25}}
          }
        },
        {
          "data": {"name": "periods"},
          "mark": {"type": "rect", "color": "#c0c0c0", "opacity": 0.53},
          "encoding": {
            "x": {"field": "start", "type": "quantitative", "scale": {"domain": [2004.995, 2025.333], "nice": false, "zero": false}, "axis": null},
            "x2": {"field": "end"}
          }
        },
        {
          "data": {"name": "periods"},
          "mark": {"type": "text", "align": "left", "baseline": "middle", "font": "Liberation Sans", "fontSize": 22, "color": "#000000"},
          "encoding": {
            "x": {"field": "start", "type": "quantitative", "scale": {"domain": [2004.995, 2025.333], "nice": false, "zero": false},
                  "axis": {"orient": "top", "values": [2006, 2009, 2012, 2015, 2018, 2021, 2024], "labels": false}},
            "y": {"datum": 3.457, "type": "quantitative", "scale": {"domain": [0.506, 4.325], "nice": false, "zero": false},
                  "axis": {"orient": "right", "values": [1, 1.5, 2, 2.5, 3, 3.5, 4], "labels": false}},
            "text": {"field": "event"}
          }
        }
      ],
      "resolve": {"axis": {"x": "independent", "y": "independent"}}
    }
  ]
}
